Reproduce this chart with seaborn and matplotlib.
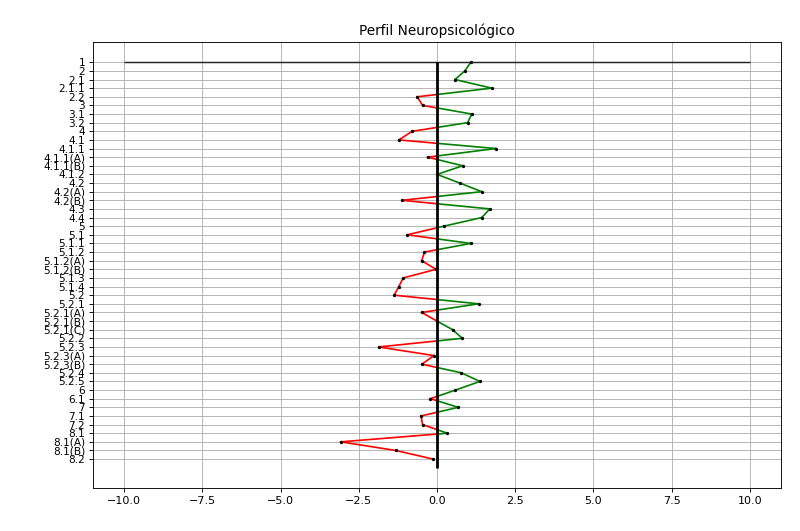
import numpy as np
import pandas as pd
import matplotlib
matplotlib.use("Agg")
import matplotlib.pyplot as plt
import seaborn as sns

labels = ["1", "2", "2.1", "2.1.1", "2.2", "3", "3.1", "3.2", "4", "4.1",
          "4.1.1", "4.1.1(A)", "4.1.1(B)", "4.1.2", "4.2", "4.2(A)", "4.2(B)",
          "4.3", "4.4", "5", "5.1", "5.1.1", "5.1.2", "5.1.2(A)", "5.1.2(B)",
          "5.1.3", "5.1.4", "5.2", "5.2.1", "5.2.1(A)", "5.2.1(B)", "5.2.1(C)",
          "5.2.2", "5.2.3", "5.2.3(A)", "5.2.3(B)", "5.2.4", "5.2.5", "6", "6.1",
          "7", "7.1", "7.2", "8.1", "8.1(A)", "8.1(B)", "8.2"]
values = [1.08, 0.89, 0.575, 1.75, -0.63, -0.46, 1.11, 0.98, -0.79, -1.22,
          1.88, -0.30, 0.82, 0.0, 0.73, 1.43, -1.12, 1.69, 1.43, 0.22,
          -0.95, 1.08, -0.40, -0.49, -0.03, -1.08, -1.22, -1.37, 1.33, -0.49,
          0.0, 0.50, 0.81, -1.86, -0.10, -0.48, 0.78, 1.37, 0.59, -0.21,
          0.68, -0.51, -0.46, 0.33, -3.08, -1.32, -0.12]
x_span = [-10, 10]
title = "Perfil Neuropsicológico"

pos = np.arange(len(labels))

# Build sign-coloured segments, splitting each at the zero crossing
rows = []
seg = 0
for i in range(len(values) - 1):
    x0, x1 = values[i], values[i + 1]
    y0, y1 = pos[i], pos[i + 1]
    if x0 * x1 < 0:
        yc = y0 + x0 / (x0 - x1) * (y1 - y0)
        s0 = "pos" if x0 > 0 else "neg"
        s1 = "pos" if x1 > 0 else "neg"
        rows += [(seg, x0, y0, s0), (seg, 0.0, yc, s0)]
        seg += 1
        rows += [(seg, 0.0, yc, s1), (seg, x1, y1, s1)]
        seg += 1
    else:
        ref = x0 if x0 != 0 else x1
        s = "pos" if ref > 0 else "neg"
        rows += [(seg, x0, y0, s), (seg, x1, y1, s)]
        seg += 1
seg_df = pd.DataFrame(rows, columns=["seg", "x", "y", "sign"])
pts_df = pd.DataFrame({"x": values, "y": pos})

fig = plt.figure(figsize=(10, 531 / 80), dpi=80)
ax = fig.add_axes([93 / 800, 1 - 488 / 531, (781 - 93) / 800, (488 - 42) / 531])

sns.lineplot(data=seg_df, x="x", y="y", units="seg", hue="sign",
             palette={"pos": "green", "neg": "red"}, estimator=None,
             sort=False, legend=False, linewidth=1.5, ax=ax, zorder=2)
sns.scatterplot(data=pts_df, x="x", y="y", color="black", s=9,
                edgecolor="black", linewidth=0, ax=ax, zorder=3)
ax.hlines(0, x_span[0], x_span[1], color="#222222", linewidth=1.3, zorder=4)
ax.vlines(0, 0, len(labels), color="black", linewidth=2.5, zorder=5)

ax.set_yticks(pos)
ax.set_yticklabels(labels, fontsize=9.5)
ax.tick_params(axis="x", labelsize=10)
ax.margins(x=0.05, y=0.05)
ax.invert_yaxis()
ax.grid(True, color="#b0b0b0", linewidth=0.8)
ax.set_axisbelow(True)
ax.set_xlabel("")
ax.set_ylabel("")
ax.set_title(title, fontsize=12.3)

fig.savefig("out.png", dpi=80)
